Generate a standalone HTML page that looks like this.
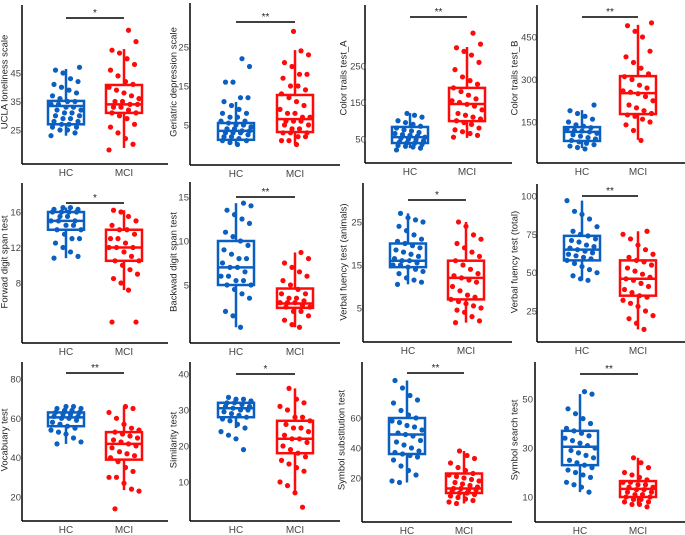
<!DOCTYPE html>
<html><head><meta charset="utf-8"><style>
html,body{margin:0;padding:0;background:#fff;}
svg{display:block;font-family:"Liberation Sans",sans-serif;}
</style></head><body>
<svg id="fig" width="685" height="535" viewBox="0 0 685 535" xmlns="http://www.w3.org/2000/svg"></svg>
<script>
// ---- data ----
const groups = ["HC","MCI"];
const titles = ["UCLA loneliness scale","Geriatric depression scale","Color trails test_A","Color trails test_B",
 "Forwad digit span test","Backwad digit span test","Verbal fuency test (animals)","Verbal fuency test (total)",
 "Vocabuary test","Similarity test","Symbol substitution test","Symbol search test"];
const sigLabels = ["*","**","**","**","*","**","*","**","**","*","**","**"];
const tickValues = [[25,35,45],[5,15,25],[50,150,250],[150,300,450],[8,12,16],[5,10,15],[5,15,25],[25,50,75,100],[20,40,60,80],[10,20,30,40],[20,40,60],[10,30,50]];
// box stats: [whiskerLo, q1, median, q3, whiskerHi]
const hcBox = [[23,27,33.4,35.2,46.4],[0,1.2,3.5,5.5,10.9],[25,39,55,83,121],[58,83,115,132,192],
 [10.8,14,15,16,16.5],[0.2,5,7,10,14.3],[10.5,14.5,16,20,27],[45,58,65,74,97],
 [47,56,60.5,63,66],[25,28,30.5,32,33.5],[17,36,49,60,85],[12,23,30.5,37,52]];
const mciBox = [[18.7,31,34,40.8,53.4],[0,3.2,6.5,12.7,24.2],[53,99,146,190,302],[87,178,252,312,493],
 [7.2,10.5,12,14,16.2],[0.2,2.4,2.9,4.6,8.7],[1.6,7,12,16,25],[13,35,46,58,77],
 [23.5,39,47,53,66],[7.5,18,22,27,36],[3,10,13,23,38],[7,10,13.3,16.5,26]];
const hcPts = [
 [23,24,25,25,26,26,27,27,28,28,29,29,30,30,31,31,32,32,33,33,34,34,35,35,36,37,38,39,40,41,42,43,45,46,47],
 [0,0.5,1,1,1.5,2,2,2.5,3,3,3,3.5,3.5,4,4,4.5,5,5,5.5,6,6,7,7,8,8,9,10,11,12,12,16,16,20,22],
 [20,25,28,30,32,35,38,40,42,45,48,50,52,55,58,60,62,65,68,72,75,80,85,90,95,100,110,115,120],
 [55,60,65,70,75,80,85,90,95,100,105,110,115,118,120,125,130,135,140,150,160,170,180,190,210],
 [10.8,11,11.5,12,12.5,13,13,13.5,14,14,14.5,14.5,15,15,15,15.5,15.5,16,16,16,16,16.3,16.3,16.5,16.5],
 [0.2,1.5,2,3.5,4,4.5,5,5,5.5,5.5,6,6,6.5,7,7,7.5,8,8,8.5,9,9.5,10,10.5,11,12,12.5,13,13.5,14,14.3],
 [10.5,11,11.5,12,13,13.5,14,14.5,15,15,15.5,16,16,16.5,17,17.5,18,18.5,19,19.5,20,20.5,21,22,23,24,25,25.5,26,27],
 [45,46,48,50,52,54,56,58,59,60,61,62,63,64,65,66,67,68,70,71,72,74,75,77,80,85,88,90,97],
 [47,48,50,52,53,54,55,56,57,58,59,60,60,61,61,62,62,63,63,64,64,65,65,66,66],
 [19,22,23,24,25,26,27,27.5,28,28.5,29,29.5,30,30,30.5,31,31,31.5,32,32,32.5,33,33,33.5],
 [17,18,22,25,28,32,34,35,36,37,38,40,42,44,45,48,49,50,52,54,55,57,58,60,62,65,70,72,75,80,85],
 [12,14,15,16,18,19,20,21,22,23,24,25,26,27,28,29,30,31,32,33,34,35,36,37,38,40,42,44,46,52,53]];
const mciPts = [
 [18,20,22,24,26,27,29,30,31,31,32,33,33,34,34,35,35,36,37,38,39,40,41,42,44,46,48,50,52,53,56,60],
 [0,1,1,2,2,3,3,3,4,4,5,5,6,6,6,7,7,8,8,9,10,11,12,13,14,15,15,17,18,18,20,21,23,24,29],
 [55,60,65,70,75,80,90,95,100,105,110,115,120,130,140,145,150,155,160,170,180,190,200,210,220,240,260,280,290,300,310,340],
 [85,120,140,150,160,170,175,180,190,200,210,225,240,250,255,260,270,280,300,310,320,340,360,380,400,450,470,490,500],
 [3.6,3.6,7.2,8,8.5,9,9.5,10,10.5,10.5,11,11.5,12,12,12,12.5,13,13,13.5,14,14,14.5,15,15.5,16,16.2],
 [0.2,0.5,1,1.5,2,2,2.5,2.5,2.7,3,3,3,3.2,3.5,3.5,4,4,4.5,5,5.5,6,6.5,7,7.5,8,8.7],
 [1.6,2,3,4,4.5,5,5.5,6,6.5,7,7.5,8,9,10,11,11.5,12,12.5,13,14,15,16,17,18,19,20,21,22,24,25],
 [13,17,20,22,25,28,30,32,34,35,37,39,41,43,45,46,47,49,51,53,55,57,58,60,62,65,68,72,75,77],
 [14,23,24,27,30,30,33,35,38,40,41,42,43,45,46,47,48,49,50,51,52,53,54,55,57,60,63,65,66],
 [3,7,9,10,13,14,15,16,17,18,19,20,21,22,22,23,24,25,25,26,27,28,28,30,31,32,33,36],
 [3,4,5,6,7,8,9,10,10,11,12,12,13,13,14,15,16,17,18,19,20,21,22,23,25,27,30,33,35,38],
 [6,7,7,8,8,9,9,10,10,11,11,12,12,13,13,14,14,15,15,16,16,17,18,19,20,22,24,26]];

// ---- layout (pixels) ----
const L = [
 {ax:22,top:5,bot:164,right:168,hx:66,mx:124,s:[25,130,45,73],sy:18,tx:5,ty:82,lx:21},
 {ax:190,top:3,bot:165,right:340,hx:236,mx:295,s:[5,125,25,47],sy:22,tx:174,ty:82,lx:189},
 {ax:365,top:5,bot:163,right:512,hx:410,mx:467,s:[50,139,250,66],sy:17,tx:344,ty:78,lx:366},
 {ax:537,top:5,bot:163,right:685,hx:582,mx:638,s:[150,122,450,37],sy:17,tx:515,ty:78,lx:537},
 {ax:22,top:183,bot:343,right:168,hx:66,mx:124,s:[8,283,16,212],sy:203,tx:5,ty:262,lx:21},
 {ax:190,top:182,bot:343,right:340,hx:236,mx:295,s:[5,285,15,197],sy:197,tx:174,ty:262,lx:189},
 {ax:363,top:183,bot:342,right:512,hx:408,mx:466,s:[5,308,25,222],sy:200,tx:344,ty:262,lx:362},
 {ax:537,top:184,bot:342,right:685,hx:582,mx:638,s:[25,311,100,196],sy:196,tx:515,ty:262,lx:537},
 {ax:22,top:362,bot:521,right:168,hx:66,mx:124,s:[20,497,80,379],sy:373,tx:5,ty:440,lx:21},
 {ax:190,top:362,bot:521,right:340,hx:236,mx:295,s:[10,482,40,374],sy:374,tx:174,ty:440,lx:189},
 {ax:362,top:362,bot:522,right:512,hx:407,mx:464,s:[20,478,60,418],sy:373,tx:342,ty:440,lx:361},
 {ax:535,top:362,bot:522,right:685,hx:580,mx:638,s:[10,497,50,399],sy:374,tx:515,ty:440,lx:533}];

const NS="http://www.w3.org/2000/svg";
const svg=document.getElementById('fig');
function mk(tag,attrs,parent){const e=document.createElementNS(NS,tag);for(const k in attrs)e.setAttribute(k,attrs[k]);(parent||svg).appendChild(e);return e;}
const COL={HC:"#0b5fc0",MCI:"#ff0a0a"};

titles.forEach((title,p)=>{
  const g=L[p];
  const y=v=>g.s[1]+(v-g.s[0])*(g.s[3]-g.s[1])/(g.s[2]-g.s[0]);
  const pg=mk('g',{});
  
  
  const ya=mk('line',{x1:g.ax,y1:g.top,x2:g.ax,y2:g.bot,stroke:'#000','stroke-width':1.5},pg);
  
  
  const xa=mk('line',{x1:g.ax,y1:g.bot,x2:g.right,y2:g.bot,stroke:'#000','stroke-width':1.5},pg);
  
  
  tickValues[p].forEach(t=>{
    const tl=mk('text',{x:g.lx,y:y(t)+3.5,'text-anchor':'end','font-size':9.5,fill:'#444'},pg);
    tl.textContent=t;
    
    
  });
  const tt=mk('text',{x:g.tx,y:g.ty,'text-anchor':'middle','font-size':9.5,fill:'#222',transform:`rotate(-90 ${g.tx} ${g.ty})`,'dominant-baseline':'central'},pg);
  tt.textContent=title;
  
  
  [['HC',g.hx],['MCI',g.mx]].forEach(([n,x])=>{
    const xl=mk('text',{x:x,y:g.bot+12,'text-anchor':'middle','font-size':10,fill:'#444'},pg);
    xl.textContent=n;
    
    
  });
  const sl=mk('line',{x1:g.hx,y1:g.sy,x2:g.mx,y2:g.sy,stroke:'#000','stroke-width':1.5},pg);
  
  
  const st=mk('text',{x:(g.hx+g.mx)/2,y:g.sy-2,'text-anchor':'middle','font-size':10,fill:'#222'},pg);
  st.textContent=sigLabels[p];
  
  
  [['HC',g.hx,hcBox[p],hcPts[p]],['MCI',g.mx,mciBox[p],mciPts[p]]].forEach(([n,cx,b,pts])=>{
    const c=COL[n], w=18;
    const bg=mk('g',{},pg);
    
    
    mk('line',{x1:cx,y1:y(b[0]),x2:cx,y2:y(b[1]),stroke:c,'stroke-width':2.5},bg);
    mk('line',{x1:cx,y1:y(b[3]),x2:cx,y2:y(b[4]),stroke:c,'stroke-width':2.5},bg);
    mk('rect',{x:cx-w,y:y(b[3]),width:2*w,height:y(b[1])-y(b[3]),fill:'#fff',stroke:c,'stroke-width':2.5},bg);
    mk('line',{x1:cx-w,y1:y(b[2]),x2:cx+w,y2:y(b[2]),stroke:c,'stroke-width':2.5},bg);
    pts.forEach((v,i)=>{
      const jx=((i*37+p*11)%21-10)/10*15;
      const pt=mk('circle',{cx:cx+jx,cy:y(v),r:2.6,fill:c},bg);
      
      
    });
  });
});
</script>
</body></html>
